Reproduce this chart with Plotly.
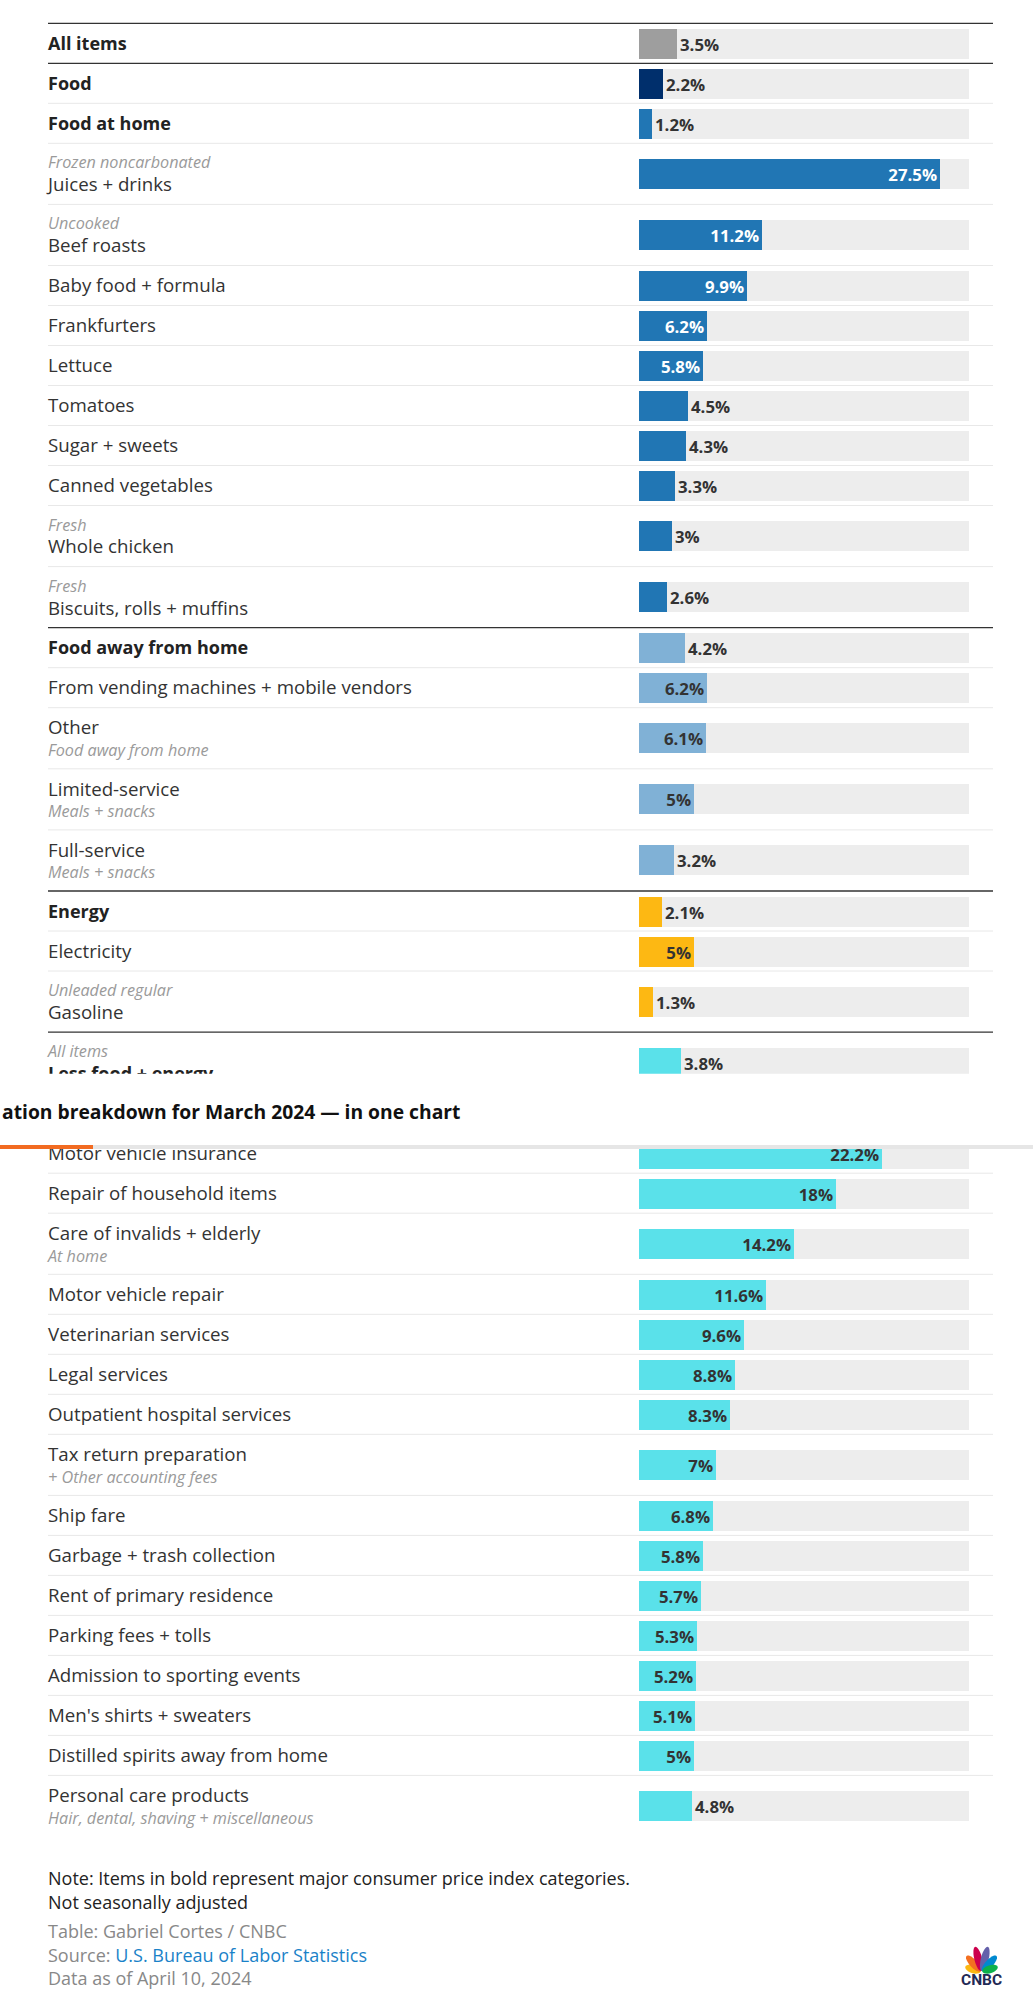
import math
import plotly.graph_objects as go

# ---------------- data ----------------
labels = [
    "All items", "Food", "Food at home", "Juices + drinks", "Beef roasts",
    "Baby food + formula", "Frankfurters", "Lettuce", "Tomatoes", "Sugar + sweets",
    "Canned vegetables", "Whole chicken", "Biscuits, rolls + muffins",
    "Food away from home", "From vending machines + mobile vendors", "Other",
    "Limited-service", "Full-service", "Energy", "Electricity", "Gasoline",
    "Less food + energy", "Motor vehicle insurance", "Repair of household items",
    "Care of invalids + elderly", "Motor vehicle repair", "Veterinarian services",
    "Legal services", "Outpatient hospital services", "Tax return preparation",
    "Ship fare", "Garbage + trash collection", "Rent of primary residence",
    "Parking fees + tolls", "Admission to sporting events", "Men's shirts + sweaters",
    "Distilled spirits away from home", "Personal care products",
]
subtitles = [
    "", "", "", "Frozen noncarbonated", "Uncooked",
    "", "", "", "", "",
    "", "Fresh", "Fresh",
    "", "", "Food away from home",
    "Meals + snacks", "Meals + snacks", "", "", "Unleaded regular",
    "All items", "", "",
    "At home", "", "",
    "", "", "+ Other accounting fees",
    "", "", "",
    "", "", "",
    "", "Hair, dental, shaving + miscellaneous",
]
subtitle_above = [
    False, False, False, True, True,
    False, False, False, False, False,
    False, True, True,
    False, False, False,
    False, False, False, False, True,
    True, False, False,
    False, False, False,
    False, False, False,
    False, False, False,
    False, False, False,
    False, False,
]
is_bold = [
    True, True, True, False, False,
    False, False, False, False, False,
    False, False, False,
    True, False, False,
    False, False, True, False, False,
    True, False, False,
    False, False, False,
    False, False, False,
    False, False, False,
    False, False, False,
    False, False,
]
values = [
    3.5, 2.2, 1.2, 27.5, 11.2,
    9.9, 6.2, 5.8, 4.5, 4.3,
    3.3, 3.0, 2.6,
    4.2, 6.2, 6.1,
    5.0, 3.2, 2.1, 5.0, 1.3,
    3.8, 22.2, 18.0,
    14.2, 11.6, 9.6,
    8.8, 8.3, 7.0,
    6.8, 5.8, 5.7,
    5.3, 5.2, 5.1,
    5.0, 4.8,
]
groups = [
    "all", "food_total", "food", "food", "food",
    "food", "food", "food", "food", "food",
    "food", "food", "food",
    "away", "away", "away",
    "away", "away", "energy", "energy", "energy",
    "core", "core", "core",
    "core", "core", "core",
    "core", "core", "core",
    "core", "core", "core",
    "core", "core", "core",
    "core", "core",
]
# rows that start a new major section (dark rule above)
section_starts = ["All items", "Food", "Food away from home", "Energy", "Less food + energy"]
# one row of the page is hidden behind the sticky header
hidden_gap_before = {"Motor vehicle insurance": 1}

title_text = "ation breakdown for March 2024 \u2014 in one chart"

# ---------------- styles / layout ----------------
W, H = 1033, 1989
FONT = "Open Sans"
TEXT = "#333333"
group_colors = {
    "all": "#9e9e9e", "food_total": "#002f6c", "food": "#2176b4",
    "away": "#80b1d6", "energy": "#fdb813", "core": "#5ae1ea",
}
inside_text_color = {
    "all": TEXT, "food_total": "white", "food": "white",
    "away": TEXT, "energy": TEXT, "core": TEXT,
}
TRACK_COLOR = "#ededed"
THIN_RULE = "#e8e8e8"
DARK_RULE = "#333333"

TOP = 23.3
ROW1, ROW2 = 40.0, 61.1
BAR_H = 30
LEFT = 48
RULE_END = 993
BAR_X0 = 639
TRACK_PX = 330
PX_PER_UNIT = 10.95
INSIDE_MIN = 5.0
TXT_DY = 2.0

x_min = -BAR_X0 / PX_PER_UNIT
x_max = (W - BAR_X0) / PX_PER_UNIT
track_val = TRACK_PX / PX_PER_UNIT

# row geometry
tops, centers = [], []
y = TOP
for i, lab in enumerate(labels):
    y += hidden_gap_before.get(lab, 0) * ROW1
    h = ROW2 if subtitles[i] else ROW1
    tops.append(y)
    centers.append(y + h / 2)
    y += h

bar_y = [c + (0 if subtitles[i] else 0.5) for i, c in enumerate(centers)]

fig = go.Figure()

# track bars
fig.add_trace(go.Bar(
    orientation="h", x=[track_val] * len(values), y=bar_y, width=BAR_H,
    marker=dict(color=TRACK_COLOR, line=dict(width=0)),
    hoverinfo="skip", showlegend=False,
))

# value bars
txt = [f"{v:g}%" for v in values]
pos = ["inside" if v >= INSIDE_MIN else "outside" for v in values]
tcol = [inside_text_color[g] if v >= INSIDE_MIN else TEXT for v, g in zip(values, groups)]
fig.add_trace(go.Bar(
    orientation="h", x=values, y=bar_y, width=BAR_H,
    marker=dict(color=[group_colors[g] for g in groups], line=dict(width=0)),
    text=txt, textposition=pos, insidetextanchor="end",
    textfont=dict(family=FONT, size=16.8, color=tcol, weight="bold"),
    constraintext="none", cliponaxis=False,
    hoverinfo="skip", showlegend=False,
))

# row labels (on pixel overlay axis)
main_y, main_txt, bold_y, bold_txt, sub_y, sub_txt = [], [], [], [], [], []
for i, lab in enumerate(labels):
    c = centers[i] + TXT_DY
    if subtitles[i]:
        if subtitle_above[i]:
            sy, my = c - 11.5, c + 10.7
        else:
            my, sy = c - 10.5, c + 12
        sub_y.append(sy)
        sub_txt.append(subtitles[i])
    else:
        my = c
    if is_bold[i]:
        bold_y.append(my)
        bold_txt.append(lab)
    else:
        main_y.append(my)
        main_txt.append(lab)

fig.add_trace(go.Scatter(
    x=[LEFT] * len(main_y), y=main_y, text=main_txt, mode="text",
    textposition="middle right", xaxis="x2", yaxis="y",
    textfont=dict(family=FONT, size=18.7, color=TEXT),
    hoverinfo="skip", showlegend=False, cliponaxis=False,
))
fig.add_trace(go.Scatter(
    x=[LEFT] * len(bold_y), y=bold_y, text=bold_txt, mode="text",
    textposition="middle right", xaxis="x2", yaxis="y",
    textfont=dict(family=FONT, size=18, color="#222222", weight="bold"),
    hoverinfo="skip", showlegend=False, cliponaxis=False,
))
fig.add_trace(go.Scatter(
    x=[LEFT] * len(sub_y), y=sub_y, text=sub_txt, mode="text",
    textposition="middle right", xaxis="x2", yaxis="y",
    textfont=dict(family=FONT, size=16.2, color="#9a9a9a", style="italic"),
    hoverinfo="skip", showlegend=False, cliponaxis=False,
))

# rules
shapes = []
for i, lab in enumerate(labels):
    dark = lab in section_starts
    shapes.append(dict(
        type="line", xref="x2", yref="y", x0=LEFT, x1=RULE_END,
        y0=tops[i], y1=tops[i], layer="below",
        line=dict(color=DARK_RULE if dark else THIN_RULE, width=1.3 if dark else 1),
    ))

# sticky header overlay
HDR_TOP, HDR_BOT = 1073.7, 1145
shapes.append(dict(type="rect", xref="x2", yref="y", x0=0, x1=W, y0=HDR_TOP, y1=HDR_BOT,
                   fillcolor="white", line=dict(width=0), layer="above"))
shapes.append(dict(type="rect", xref="x2", yref="y", x0=0, x1=W, y0=HDR_BOT, y1=HDR_BOT + 4,
                   fillcolor="#e6e6e6", line=dict(width=0), layer="above"))
shapes.append(dict(type="rect", xref="x2", yref="y", x0=0, x1=93, y0=HDR_BOT, y1=HDR_BOT + 4,
                   fillcolor="#f26b21", line=dict(width=0), layer="above"))

# CNBC peacock logo
bx, by = 981.5, 1972
petals = [(-72, 16, "#fcb711"), (-43, 21, "#f37021"), (-14, 25, "#cc004c"),
          (14, 25, "#6460aa"), (43, 21, "#0089d0"), (72, 16, "#0db14b")]
for ang, L, col in petals:
    a = math.radians(ang)
    ux, uy = math.sin(a), -math.cos(a)
    vx, vy = -uy, ux
    cx, cy = bx + ux * (L / 2 + 1), by + uy * (L / 2 + 1)
    pts = []
    for k in range(24):
        t = 2 * math.pi * k / 24
        px = cx + ux * (L / 2) * math.cos(t) + vx * 3.9 * math.sin(t)
        py = cy + uy * (L / 2) * math.cos(t) + vy * 3.9 * math.sin(t)
        pts.append(f"{px:.2f},{py:.2f}")
    shapes.append(dict(type="path", xref="x2", yref="y", path="M" + " L".join(pts) + " Z",
                       fillcolor=col, line=dict(width=0), layer="above"))

annotations = [
    dict(text=f"<b>{title_text}</b>", xref="paper", yref="y", x=0, y=1111.5,
         xanchor="left", yanchor="middle", showarrow=False,
         font=dict(family=FONT, size=19.3, color="#111111")),
    dict(text="Note: Items in bold represent major consumer price index categories.",
         xref="x2", yref="y", x=LEFT - 2, y=1878, xanchor="left", yanchor="middle",
         showarrow=False, font=dict(family=FONT, size=18, color="#222222")),
    dict(text="Not seasonally adjusted",
         xref="x2", yref="y", x=LEFT - 2, y=1902, xanchor="left", yanchor="middle",
         showarrow=False, font=dict(family=FONT, size=18, color="#222222")),
    dict(text="Table: Gabriel Cortes / CNBC",
         xref="x2", yref="y", x=LEFT - 2, y=1931, xanchor="left", yanchor="middle",
         showarrow=False, font=dict(family=FONT, size=18, color="#888888")),
    dict(text="Source: <span style='color:#1a82c8'>U.S. Bureau of Labor Statistics</span>",
         xref="x2", yref="y", x=LEFT - 2, y=1955, xanchor="left", yanchor="middle",
         showarrow=False, font=dict(family=FONT, size=18, color="#888888")),
    dict(text="Data as of April 10, 2024",
         xref="x2", yref="y", x=LEFT - 2, y=1978, xanchor="left", yanchor="middle",
         showarrow=False, font=dict(family=FONT, size=18, color="#888888")),
    dict(text="<b>CNBC</b>", xref="x2", yref="y", x=981.5, y=1979.5,
         xanchor="center", yanchor="middle", showarrow=False,
         font=dict(family="Roboto", size=15.5, color="#1f2a55")),
]

fig.update_layout(
    width=W, height=H, margin=dict(l=0, r=0, t=0, b=0),
    paper_bgcolor="white", plot_bgcolor="white",
    barmode="overlay", bargap=0, showlegend=False,
    xaxis=dict(range=[x_min, x_max], visible=False, fixedrange=True, domain=[0, 1]),
    xaxis2=dict(range=[0, W], visible=False, overlaying="x", fixedrange=True),
    yaxis=dict(range=[H, 0], visible=False, fixedrange=True, domain=[0, 1]),
    shapes=shapes, annotations=annotations,
    uniformtext=dict(mode=False),
)

fig.write_html("out.html")
